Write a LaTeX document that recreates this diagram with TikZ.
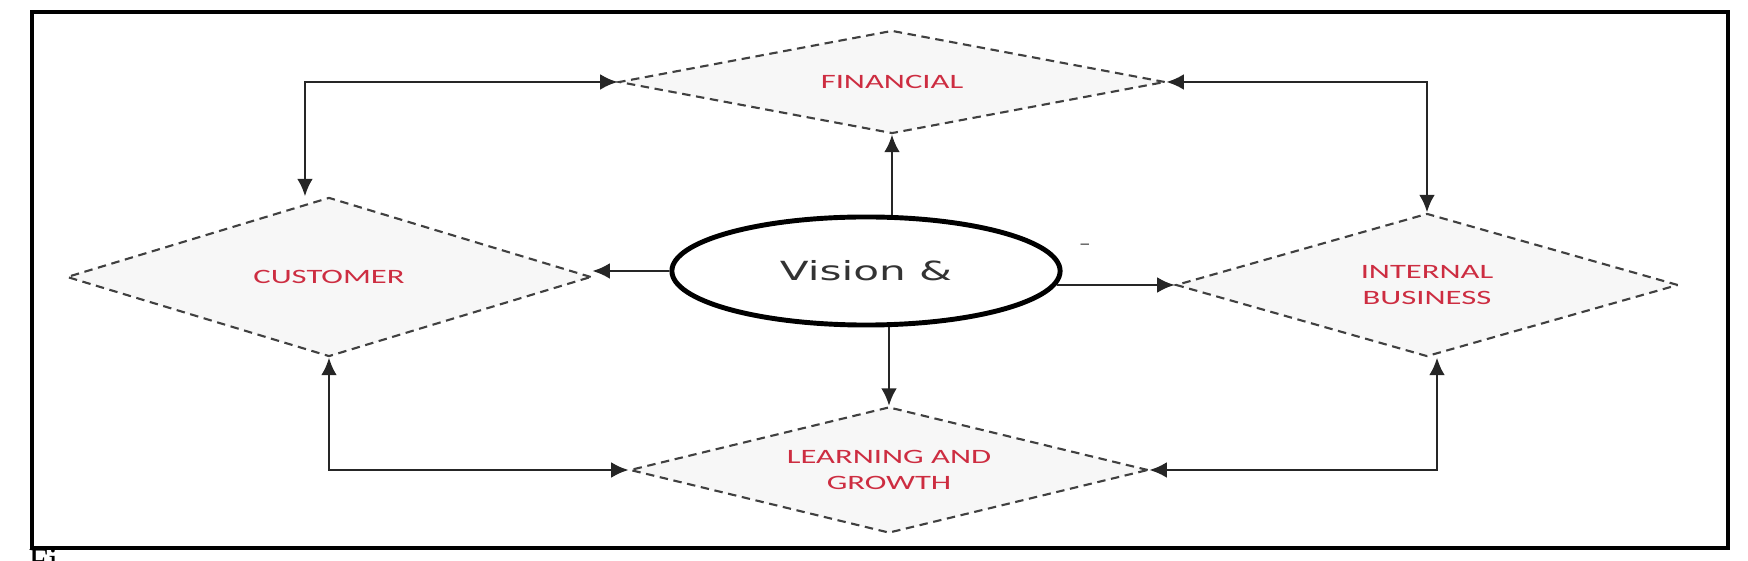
\documentclass[tikz,border=0pt]{standalone}
\usepackage{fontspec}
\usepackage{graphicx}
\setmainfont{Liberation Serif}
\newfontfamily\tagfont{Carlito}
\newfontfamily\corefont{DejaVu Sans}
\usetikzlibrary{shapes,arrows.meta,positioning,calc}
\definecolor{tagred}{RGB}{205,45,65}
\newcommand{\wide}[1]{\scalebox{1.6}[1]{#1}}

\begin{document}
\begin{tikzpicture}[
    x=0.01cm, y=-0.01cm,
    block/.style={diamond, draw=black!75, dash pattern=on 2.4pt off 1.6pt, line width=0.6pt, fill=black!3, inner sep=0pt, align=center, text=tagred, font=\tagfont\fontsize{5.8}{7.4}\selectfont},
    core/.style={ellipse, draw=black, line width=1.4pt, minimum width=3.88cm, minimum height=1.08cm, inner sep=0pt, font=\corefont\fontsize{7.5}{9}\selectfont, text=black!80},
    arrow/.style={->, line width=0.8pt, draw=black!85, >={Latex[length=5pt,width=4.5pt]}}
]
\useasboundingbox (0,0) rectangle (1748,561);
\draw[line width=0.9pt] (32,12) rectangle (1728,548);

\node[core] (vision) at (866,271) {\wide{Vision \&}};
\node[block, aspect=5.3, minimum width=5.46cm, minimum height=1.03cm] (fin) at (892,82) {\wide{FINANCIAL}};
\node[block, aspect=3.3, minimum width=5.24cm, minimum height=1.59cm] (cust) at (329,277) {\wide{CUSTOMER}};
\node[block, aspect=3.5, minimum width=5.02cm, minimum height=1.43cm] (int) at (1427,285) {\wide{INTERNAL}\\\wide{BUSINESS}};
\node[block, aspect=4.1, minimum width=5.18cm, minimum height=1.26cm] (learn) at (889,470) {\wide{LEARNING AND}\\\wide{GROWTH}};
\node[font=\corefont\fontsize{6}{7}\selectfont, text=black!60, inner sep=0pt] (tick) at (1085,247) {\textendash};
\node[anchor=base west, font=\fontsize{10}{12}\selectfont, inner sep=0pt] (cap) at (28,573) {Fi};

\draw[arrow] (vision.north -| fin.south) -- (fin.south);
\draw[arrow] (vision.south -| learn.north) -- (learn.north);
\draw[arrow] (vision.west) -- (vision.west -| cust.east);
\draw[arrow] ($(vision.east |- int.west)+(-6,0)$) -- (int.west);

\draw[arrow, <->] (fin.west) -| ([xshift=-0.24cm]cust.north);
\draw[arrow, <->] (fin.east) -| (int.north);
\draw[arrow, <->] (cust.south) |- (learn.west);
\draw[arrow, <->] (learn.east) -| ([xshift=0.1cm]int.south);
\end{tikzpicture}
\end{document}
